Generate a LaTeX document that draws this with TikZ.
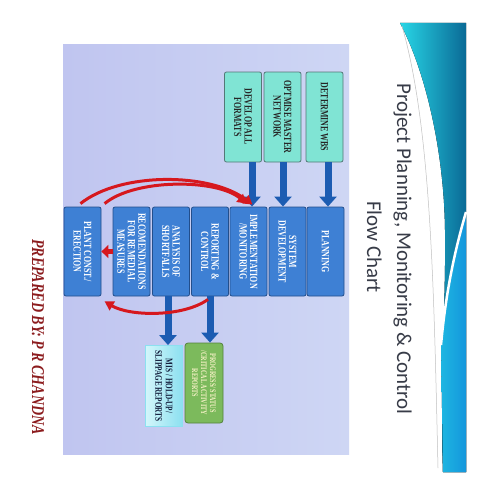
\documentclass[tikz,border=0pt]{standalone}
\usepackage{fontspec}
\setmainfont{Liberation Serif}
\newfontfamily\titlefont{Carlito}
\newfontfamily\boxfont[FakeStretch=0.72]{Liberation Serif}
\newfontfamily\prepfont[FakeStretch=0.78]{Liberation Serif}
\usetikzlibrary{arrows.meta,calc}

\newlength{\du}
\setlength{\du}{1pt}

\definecolor{lavender}{RGB}{192,197,240}
\definecolor{lavenderlt}{RGB}{206,214,244}
\definecolor{tealfill}{RGB}{128,228,212}
\definecolor{tealedge}{RGB}{84,120,118}
\definecolor{stagefill}{RGB}{62,128,212}
\definecolor{stageedge}{RGB}{34,78,140}
\definecolor{greenfill}{RGB}{124,186,92}
\definecolor{greenedge}{RGB}{84,130,60}
\definecolor{misfill}{RGB}{140,224,240}
\definecolor{misfilllt}{RGB}{210,246,250}
\definecolor{flowblue}{RGB}{28,92,178}
\definecolor{loopred}{RGB}{214,24,30}
\definecolor{titlegray}{RGB}{56,60,72}
\definecolor{prepred}{RGB}{140,28,30}
\definecolor{banddark}{RGB}{10,106,150}
\definecolor{bandcyan}{RGB}{40,214,230}
\definecolor{bandblue}{RGB}{20,150,220}

\tikzset{
  inputbox/.style={draw=tealedge, fill=tealfill, rounded corners=2\du, line width=0.8\du,
    minimum width=90\du, minimum height=37\du, inner sep=1\du, align=center, text=black!85,
    font=\boxfont\bfseries\fontsize{11}{10.5}\selectfont},
  stagebox/.style={inputbox, draw=stageedge, fill=stagefill, text=white, minimum width=89\du},
  progressbox/.style={inputbox, draw=greenedge, fill=greenfill, rounded corners=3\du,
    minimum width=80\du, minimum height=38\du, text={rgb,255:red,244;green,240;blue,196},
    font=\boxfont\bfseries\fontsize{8.5}{9}\selectfont},
  misbox/.style={inputbox, draw=misfill, left color=misfilllt, right color=misfill, rounded corners=0\du,
    minimum width=81\du, minimum height=37\du, text={rgb,255:red,20;green,30;blue,60},
    font=\boxfont\bfseries\fontsize{10}{10.5}\selectfont},
  titletext/.style={font=\titlefont\fontsize{21}{26}\selectfont, text=titlegray, anchor=base},
  blockarrow/.style={draw=flowblue, line width=7\du, -{Triangle[width=17pt,length=10pt]}},
  looparrow/.style={draw=loopred, line width=3\du, -{Triangle[width=10pt,length=9pt]}},
}

\begin{document}
\begin{tikzpicture}
\useasboundingbox (0,0) rectangle (495\du,-495\du);
\fill[white] (0,0) rectangle (495\du,-495\du);

% title band
\fill[left color=bandcyan, right color=banddark] (400\du,-23\du) -- (466\du,-23\du) -- (466\du,-472\du) -- (443\du,-472\du)
  .. controls (440\du,-380\du) and (446\du,-300\du) .. (445\du,-230\du)
  .. controls (444\du,-150\du) and (425\du,-70\du) .. (400\du,-23\du) -- cycle;
\fill[left color=bandcyan!50!bandblue, right color=bandblue] (466\du,-212\du)
  .. controls (455\du,-250\du) and (446\du,-290\du) .. (441\du,-345\du) -- (443\du,-472\du) -- (466\du,-472\du) -- cycle;
\draw[white, line width=2.5\du] (466\du,-212\du) .. controls (455\du,-250\du) and (446\du,-290\du) .. (441\du,-345\du);
\draw[gray!50, line width=0.5\du] (402\du,-26\du) .. controls (432\du,-130\du) and (434\du,-300\du) .. (438\du,-468\du);

\begin{scope}[rotate=-90, transform shape]
\fill[left color=lavender, right color=lavenderlt] (45\du,63\du) rectangle (454\du,349\du);

% setfont left to latex
\node[titletext] (title) at (249\du,397\du) {Project Planning, Monitoring \& Control};
\node[titletext] (subtitle) at (247\du,367\du) {Flow Chart};
\node[font=\prepfont\bfseries\itshape\fontsize{18}{20}\selectfont, text=prepred, anchor=base] (prepared) at (337\du,32\du) {PREPARED BY: P R CHANDNA};

% inputs
\node[inputbox] (wbs) at (117\du,324.5\du) {DETERMINE WBS};
\node[inputbox] (optnet) at (117\du,282.5\du) {OPTMISE MASTER\\NETWORK};
\node[inputbox] (devfmt) at (117\du,243\du) {DEVELOP ALL\\FORMATS};

% stages
\node[stagebox] (plan) at (251.5\du,325.5\du) {PLANNING};
\node[stagebox] (sysdev) at (251.5\du,287.5\du) {SYSTEM\\DEVELOPMENT};
\node[stagebox] (impl) at (251.5\du,248.5\du) {IMPLEMENTATION\\/MONITORING};
\node[stagebox] (report) at (251.5\du,210\du) {REPORTING \&\\CONTROL};
\node[stagebox] (analysis) at (251.5\du,171\du) {ANALYSIS OF\\SHORTFALLS};
\node[stagebox] (remedy) at (251.5\du,131.5\du) {RECOMENDATIONS\\FOR REMEDIAL\\MEASURES};
\node[stagebox] (plant) at (251.5\du,82.5\du) {PLANT CONST./\\ERECTION};

% reports
\node[progressbox] (progress) at (383\du,204\du) {PROGRESS/ STATUS\\/CRITICAL ACTIVITY\\REPORTS};
\node[misbox] (mis) at (386\du,164\du) {MIS / HOLD-UP/\\SLIPPAGE REPORTS};

\draw[blockarrow] ($(wbs.east)+(0,3.5\du)$) -- ($(plan.west)+(0,2.5\du)$);
\draw[blockarrow] ($(optnet.east)+(0,0.5\du)$) -- ($(sysdev.west)+(0,-4.5\du)$);
\draw[blockarrow] ($(devfmt.east)+(0,9\du)$) -- ($(impl.west)+(0,3.5\du)$);
\draw[blockarrow] ($(analysis.east)+(0,-3\du)$) -- ($(mis.west)+(0,4\du)$);
\draw[blockarrow] (report.east) -- ($(progress.west)+(0,6\du)$);

% feedback loops
\draw[looparrow] ($(plant.west)+(-3\du,-2\du)$) .. controls +(-32\du,40\du) and +(-32\du,-42\du) .. ($(impl.west)+(-2\du,4\du)$);
\draw[looparrow] ($(remedy.south west)+(-3\du,-8\du)$) .. controls +(-25\du,30\du) and +(-25\du,-30\du) .. ($(impl.west)+(-3\du,-2\du)$);
\draw[looparrow] ($(report.east)+(3\du,-2\du)$) .. controls +(18\du,-25\du) and +(15\du,25\du) .. ($(remedy.south east)+(5\du,-8\du)$);
\draw[looparrow, line width=5\du, -{Triangle[width=13pt,length=7pt]}] (remedy.south) -- (plant.north);
\end{scope}
\end{tikzpicture}
\end{document}
